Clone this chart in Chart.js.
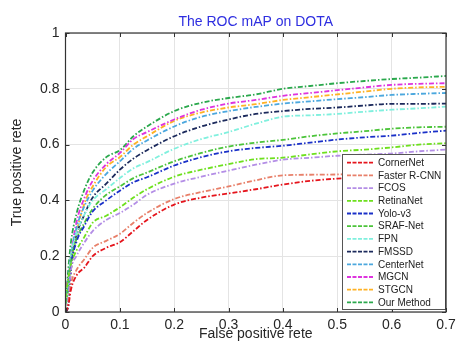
<!DOCTYPE html>
<html>
<head>
<meta charset="utf-8">
<script src="https://cdn.jsdelivr.net/npm/chart.js@4"></script>
<style>
  body { margin: 0; background: #fff; }
  #chart { display: block; }
</style>
</head>
<body>
<canvas id="chart" width="474" height="351"></canvas>
<script>
// false positive rate sample points
const fpr = [0, 0.005, 0.01, 0.02, 0.035, 0.05, 0.075, 0.1, 0.125, 0.15, 0.2, 0.25, 0.3, 0.35, 0.4, 0.45, 0.5, 0.55, 0.6, 0.65, 0.7];

const methods = ['CornerNet', 'Faster R-CNN', 'FCOS', 'RetinaNet', 'Yolo-v3', 'SRAF-Net', 'FPN', 'FMSSD', 'CenterNet', 'MGCN', 'STGCN', 'Our Method'];

const cornerNet = [0.0, 0.02, 0.08, 0.13, 0.16, 0.20, 0.23, 0.25, 0.29, 0.33, 0.385, 0.41, 0.425, 0.44, 0.457, 0.47, 0.478, 0.48, 0.485, 0.49, 0.49];
const fasterRcnn = [0.0, 0.03, 0.10, 0.15, 0.19, 0.23, 0.255, 0.28, 0.32, 0.355, 0.405, 0.43, 0.45, 0.472, 0.49, 0.492, 0.493, 0.50, 0.505, 0.512, 0.515];
const fcos = [0.0, 0.05, 0.15, 0.20, 0.25, 0.29, 0.33, 0.355, 0.385, 0.42, 0.46, 0.485, 0.507, 0.528, 0.546, 0.553, 0.56, 0.564, 0.568, 0.576, 0.582];
const retinaNet = [0.05, 0.12, 0.17, 0.22, 0.27, 0.32, 0.345, 0.375, 0.41, 0.44, 0.485, 0.51, 0.53, 0.548, 0.553, 0.565, 0.576, 0.582, 0.59, 0.60, 0.605];
const yolo = [0.0, 0.03, 0.16, 0.25, 0.31, 0.36, 0.40, 0.435, 0.465, 0.483, 0.525, 0.555, 0.576, 0.588, 0.596, 0.607, 0.618, 0.626, 0.632, 0.642, 0.65];
const sraf = [0.03, 0.08, 0.18, 0.26, 0.32, 0.37, 0.42, 0.45, 0.48, 0.50, 0.54, 0.57, 0.593, 0.607, 0.617, 0.63, 0.64, 0.648, 0.657, 0.662, 0.664];
const fpn = [0.05, 0.10, 0.20, 0.28, 0.35, 0.40, 0.44, 0.48, 0.515, 0.537, 0.585, 0.62, 0.645, 0.675, 0.70, 0.705, 0.71, 0.718, 0.725, 0.73, 0.736];
const fmssd = [0.0, 0.02, 0.15, 0.27, 0.35, 0.41, 0.46, 0.51, 0.55, 0.58, 0.63, 0.665, 0.69, 0.71, 0.72, 0.728, 0.733, 0.74, 0.746, 0.746, 0.747];
const centerNet = [0.03, 0.10, 0.20, 0.30, 0.38, 0.435, 0.495, 0.54, 0.585, 0.615, 0.665, 0.70, 0.72, 0.735, 0.747, 0.755, 0.763, 0.77, 0.778, 0.782, 0.785];
const mgcn = [0.09, 0.12, 0.20, 0.32, 0.41, 0.47, 0.53, 0.57, 0.62, 0.645, 0.69, 0.725, 0.747, 0.76, 0.775, 0.785, 0.795, 0.805, 0.814, 0.818, 0.82];
const stgcn = [0.0, 0.05, 0.15, 0.28, 0.39, 0.45, 0.52, 0.555, 0.60, 0.63, 0.685, 0.715, 0.733, 0.745, 0.76, 0.77, 0.78, 0.79, 0.80, 0.805, 0.807];
const ourMethod = [0.02, 0.15, 0.25, 0.35, 0.44, 0.50, 0.555, 0.58, 0.63, 0.665, 0.72, 0.75, 0.767, 0.78, 0.80, 0.81, 0.82, 0.828, 0.835, 0.84, 0.846];

const series = [cornerNet, fasterRcnn, fcos, retinaNet, yolo, sraf, fpn, fmssd, centerNet, mgcn, stgcn, ourMethod];
const colors = ['#e5141c', '#e8806a', '#b48ee6', '#6ee01e', '#1a30c8', '#4cc43a', '#80f0de', '#1c2a5c', '#4ca8de', '#de34de', '#ffb224', '#2aa84c'];

const xTicks = [0, 0.1, 0.2, 0.3, 0.4, 0.5, 0.6, 0.7];
const yTicks = [0, 0.2, 0.4, 0.6, 0.8, 1];

const FONT = '"Liberation Sans", Arial, sans-serif';

// frame, inward tick marks, title, axis titles and the boxed legend
const decorPlugin = {
    id: 'decor',
    afterDatasetsDraw(chart) {
        const { ctx, chartArea: a, scales } = chart;
        ctx.save();

        // tick marks pointing in
        ctx.strokeStyle = '#333';
        ctx.lineWidth = 1;
        ctx.beginPath();
        xTicks.forEach(v => {
            const x = Math.round(scales.x.getPixelForValue(v)) + 0.5;
            ctx.moveTo(x, a.bottom); ctx.lineTo(x, a.bottom - 4);
            ctx.moveTo(x, a.top); ctx.lineTo(x, a.top + 4);
        });
        yTicks.forEach(v => {
            const y = Math.round(scales.y.getPixelForValue(v)) + 0.5;
            ctx.moveTo(a.left, y); ctx.lineTo(a.left + 4, y);
            ctx.moveTo(a.right, y); ctx.lineTo(a.right - 4, y);
        });
        ctx.stroke();

        // legend box
        const lx = 342, ly = 154, lw = a.right - 342, lh = 156;
        ctx.fillStyle = '#fff';
        ctx.fillRect(lx, ly, lw, lh);
        ctx.strokeStyle = '#555';
        ctx.strokeRect(lx + 0.5, ly + 0.5, lw - 1, lh - 1);
        ctx.font = '10px ' + FONT;
        ctx.textBaseline = 'middle';
        ctx.textAlign = 'left';
        chart.data.datasets.forEach((ds, i) => {
            const y = 162.7 + i * 12.7;
            ctx.strokeStyle = ds.borderColor;
            ctx.lineWidth = 1.8;
            ctx.setLineDash([4, 1.5]);
            ctx.beginPath();
            ctx.moveTo(347, y); ctx.lineTo(374, y);
            ctx.stroke();
            ctx.setLineDash([]);
            ctx.fillStyle = '#222';
            ctx.fillText(ds.label, 378, y + 0.5);
        });

        // plot frame
        ctx.strokeStyle = '#333';
        ctx.lineWidth = 1.2;
        ctx.strokeRect(a.left, a.top, a.right - a.left, a.bottom - a.top);

        // title
        ctx.fillStyle = '#2e2ee0';
        ctx.font = '14px ' + FONT;
        ctx.textAlign = 'center';
        ctx.fillText('The ROC mAP on DOTA', (a.left + a.right) / 2, 22);

        // axis titles
        ctx.fillStyle = '#262626';
        ctx.font = '14px ' + FONT;
        ctx.fillText('False positive rete', (a.left + a.right) / 2, 334);
        ctx.translate(17, (a.top + a.bottom) / 2);
        ctx.rotate(-Math.PI / 2);
        ctx.fillText('True positive rete', 0, 0);
        ctx.restore();
    }
};

const ctx = document.getElementById('chart').getContext('2d');
new Chart(ctx, {
    type: 'line',
    data: {
        datasets: methods.map((name, i) => ({
            label: name,
            data: fpr.map((x, j) => ({ x: x, y: series[i][j] })),
            borderColor: colors[i],
            backgroundColor: colors[i],
            borderWidth: 1.8,
            borderDash: [5, 2, 1.5, 2],
            pointRadius: 0,
            fill: false,
            cubicInterpolationMode: 'monotone'
        }))
    },
    options: {
        responsive: false,
        animation: false,
        layout: { padding: { left: 0, right: 28, top: 33, bottom: 0 } },
        plugins: {
            legend: { display: false },
            title: { display: false },
            tooltip: { enabled: false }
        },
        scales: {
            x: {
                type: 'linear',
                min: 0, max: 0.7,
                afterBuildTicks: s => { s.ticks = xTicks.map(v => ({ value: v })); },
                afterFit: s => { s.height = 39; },
                ticks: {
                    font: { family: FONT, size: 14 },
                    color: '#262626',
                    padding: 5,
                    maxRotation: 0,
                    callback: v => String(v)
                },
                grid: { color: '#e4e4e4', drawTicks: false },
                border: { display: false }
            },
            y: {
                min: 0, max: 1,
                afterBuildTicks: s => { s.ticks = yTicks.map(v => ({ value: v })); },
                afterFit: s => { s.width = 65.5; },
                ticks: {
                    font: { family: FONT, size: 14 },
                    color: '#262626',
                    padding: 6,
                    callback: v => String(v)
                },
                grid: { color: '#e4e4e4', drawTicks: false },
                border: { display: false }
            }
        }
    },
    plugins: [decorPlugin]
});
</script>
</body>
</html>
